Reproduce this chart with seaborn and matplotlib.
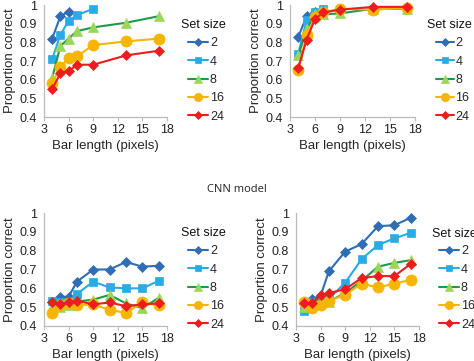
import matplotlib
matplotlib.use("Agg")
import matplotlib.pyplot as plt
import seaborn as sns
import pandas as pd

sns.set_theme(style="white")
plt.rcParams['font.family'] = ['Liberation Sans', 'DejaVu Sans']

set_sizes = ["2", "4", "8", "16", "24"]

# Top-left panel (humans, condition 1)
tl_x = {"2": [4, 5, 6], "4": [4, 5, 6, 7, 9],
        "8": [4, 5, 6, 7, 9, 13, 17], "16": [4, 5, 6, 7, 9, 13, 17],
        "24": [4, 5, 6, 7, 9, 13, 17]}
tl_y = {"2": [0.82, 0.94, 0.965],
        "4": [0.71, 0.84, 0.915, 0.945, 0.98],
        "8": [0.61, 0.78, 0.82, 0.86, 0.88, 0.905, 0.94],
        "16": [0.58, 0.67, 0.715, 0.725, 0.785, 0.805, 0.82],
        "24": [0.55, 0.635, 0.645, 0.68, 0.68, 0.73, 0.755]}

# Top-right panel
tr_x = {"2": [4, 5, 6, 7], "4": [4, 5, 6, 7],
        "8": [4, 5, 6, 7, 9, 13, 17], "16": [4, 5, 6, 7, 9, 13, 17],
        "24": [4, 5, 6, 7, 9, 13, 17]}
tr_y = {"2": [0.83, 0.94, 0.96, 0.975],
        "4": [0.74, 0.92, 0.96, 0.98],
        "8": [0.73, 0.87, 0.95, 0.95, 0.955, 0.98, 0.98],
        "16": [0.65, 0.84, 0.935, 0.96, 0.98, 0.975, 0.985],
        "24": [0.665, 0.815, 0.925, 0.96, 0.975, 0.99, 0.99]}

# Bottom panels (CNN model)
cnn_x = [4, 5, 6, 7, 9, 11, 13, 15, 17]
bl_y = {"2": [0.53, 0.555, 0.555, 0.635, 0.70, 0.70, 0.74, 0.715, 0.72],
        "4": [0.535, 0.53, 0.53, 0.57, 0.635, 0.605, 0.60, 0.60, 0.64],
        "8": [0.50, 0.50, 0.51, 0.53, 0.54, 0.565, 0.52, 0.495, 0.55],
        "16": [0.47, 0.51, 0.52, 0.51, 0.515, 0.485, 0.47, 0.525, 0.51],
        "24": [0.525, 0.515, 0.525, 0.535, 0.515, 0.525, 0.505, 0.515, 0.52]}
br_y = {"2": [0.52, 0.545, 0.56, 0.69, 0.795, 0.835, 0.93, 0.935, 0.975],
        "4": [0.48, 0.53, 0.54, 0.545, 0.63, 0.755, 0.83, 0.865, 0.895],
        "8": [0.50, 0.51, 0.525, 0.53, 0.575, 0.64, 0.715, 0.735, 0.75],
        "16": [0.53, 0.495, 0.51, 0.535, 0.565, 0.625, 0.605, 0.625, 0.645],
        "24": [0.52, 0.52, 0.565, 0.575, 0.595, 0.655, 0.665, 0.665, 0.73]}

x_ticks = [3, 6, 9, 12, 15, 18]
y_ticks = [0.4, 0.5, 0.6, 0.7, 0.8, 0.9, 1.0]
y_tick_labels = ["0.4", "0.5", "0.6", "0.7", "0.8", "0.9", "1"]

styles = {
    "2": dict(color="#2f6db5", marker="D", ms=5, mfc="#2f6db5", mec="#2f6db5"),
    "4": dict(color="#29abe6", marker="s", ms=6, mfc="#29abe6", mec="#29abe6"),
    "8": dict(color="#1f9a48", marker="^", ms=7, mfc="#9ad65a", mec="#9ad65a"),
    "16": dict(color="#f7b500", marker="o", ms=8, mfc="#f7b500", mec="#f7b500"),
    "24": dict(color="#ee1c1c", marker="D", ms=5.5, mfc="#ee1c1c", mec="#ee1c1c"),
}

W, H = 474, 361
fig = plt.figure(figsize=(W / 100, H / 100), dpi=100)

def fbox(l, r, t, b):
    return [l / W, 1 - b / H, (r - l) / W, (b - t) / H]

# (axes box, xs, ys, title (x, y), legend handle start x, first row y, row spacing, handle length)
panels = [
    (fbox(44, 167, 5, 117), tl_x, tl_y, (181, 25), 188, 44, 1.6),
    (fbox(290, 415, 5, 117), tr_x, tr_y, (427, 25), 436, 44, 1.4),
    (fbox(44, 167, 213, 326), {k: cnn_x for k in set_sizes}, bl_y, (181, 233), 188, 252, 1.6),
    (fbox(296, 419, 213, 326), {k: cnn_x for k in set_sizes}, br_y, (432, 234), 439, 252, 1.6),
]

for i, (box, xs, ys, tpos, hx, ry, hl) in enumerate(panels):
    ax = fig.add_axes(box)
    handles = []
    for s in set_sizes:
        df = pd.DataFrame({"x": xs[s], "y": ys[s]})
        st = styles[s]
        sns.lineplot(data=df, x="x", y="y", ax=ax, color=st["color"], lw=1.5,
                     marker=st["marker"], markersize=st["ms"],
                     markerfacecolor=st["mfc"], markeredgecolor=st["mec"],
                     markeredgewidth=0.5, legend=False, clip_on=False)
        handles.append(ax.lines[-1])
    ax.set_xlim(3, 18)
    ax.set_ylim(0.4, 1.0)
    ax.set_xticks(x_ticks)
    ax.set_xticklabels([str(t) for t in x_ticks])
    ax.set_yticks(y_ticks)
    ax.set_yticklabels(y_tick_labels)
    ax.tick_params(axis="both", labelsize=9, colors="#222222", length=3,
                   width=0.8, direction="out", pad=2)
    ax.tick_params(axis="x", bottom=True, color="#bbbbbb")
    ax.tick_params(axis="y", left=False)
    for sp in ["top", "right"]:
        ax.spines[sp].set_visible(False)
    for sp in ["left", "bottom"]:
        ax.spines[sp].set_color("#bbbbbb")
        ax.spines[sp].set_linewidth(0.9)
    ax.set_xlabel("Bar length (pixels)", fontsize=9.5, labelpad=3)
    ax.set_ylabel("Proportion correct", fontsize=9.5, labelpad=3)

    tx, ty = tpos
    fig.text(tx / W, 1 - ty / H, "Set size", ha="left", va="center",
             fontsize=9, color="#111111")
    fig.legend(handles, set_sizes, frameon=False, loc="upper left",
               bbox_to_anchor=((hx - 2.5) / W, 1 - (ry - 9) / H),
               borderaxespad=0, fontsize=9, handlelength=hl,
               handletextpad=0.15, labelspacing=0.5, borderpad=0.2,
               markerscale=0.75)

fig.text(237 / W, 1 - 189 / H, "CNN model", ha="center", va="center",
         fontsize=8, family=["Open Sans", "DejaVu Sans"], color="#222222")

fig.savefig("out.png", dpi=100)
